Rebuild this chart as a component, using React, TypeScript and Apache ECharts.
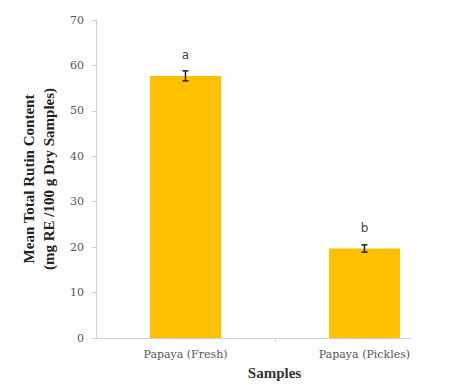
import React, { useEffect, useRef } from "react";
import * as echarts from "echarts";

const categories = ["Papaya (Fresh)", "Papaya (Pickles)"];
const means = [57.7, 19.7];
const errors = [1.1, 0.8];
const letters = ["a", "b"];
const yTicks = [0, 10, 20, 30, 40, 50, 60, 70];

export default function App() {
  const ref = useRef<HTMLDivElement>(null);
  useEffect(() => {
    if (!ref.current) return;
    const chart = echarts.init(ref.current, null, { renderer: "svg" });
    const serif = "Liberation Serif";
    const smallSerif = "DejaVu Serif";
    const positions = categories.map((_, i) => i + 0.5);
    chart.setOption({
      animation: false,
      backgroundColor: "#ffffff",
      textStyle: { fontFamily: serif },
      grid: { left: 96, right: 63, top: 20, bottom: 49, containLabel: false },
      xAxis: {
        type: "value",
        min: 0,
        max: 1.76,
        splitLine: { show: false },
        axisLine: { show: true, lineStyle: { color: "#d0d0d0", width: 1 } },
        axisTick: { show: true, customValues: [1], length: 4, lineStyle: { color: "#d0d0d0" } },
        axisLabel: {
          customValues: positions,
          formatter: (v: number) => categories[Math.floor(v)] ?? "",
          color: "#555",
          fontFamily: smallSerif,
          fontSize: 11,
          margin: 11,
        },
        name: "Samples",
        nameLocation: "middle",
        nameGap: 27,
        nameTextStyle: { fontFamily: serif, fontWeight: "bold", fontSize: 15, color: "#333", padding: [0, 0, 0, 42] },
      },
      yAxis: {
        type: "value",
        min: yTicks[0],
        max: yTicks[yTicks.length - 1],
        interval: 10,
        splitLine: { show: false },
        axisLine: { show: true, lineStyle: { color: "#d0d0d0", width: 1 } },
        axisTick: { show: true, length: 4, lineStyle: { color: "#d0d0d0" } },
        axisLabel: {
          color: "#555",
          fontFamily: smallSerif,
          fontSize: 11,
          margin: 12,
        },
        name: "Mean Total Rutin Content\n(mg RE /100 g Dry Samples)",
        nameLocation: "middle",
        nameGap: 34,
        nameTextStyle: { fontFamily: serif, fontWeight: "bold", fontSize: 15, color: "#222", lineHeight: 20 },
      },
      series: [
        {
          type: "bar",
          barWidth: 71,
          data: positions.map((x, i) => [x, means[i]]),
          itemStyle: { color: "#FFC000" },
          label: {
            show: true,
            position: "top",
            distance: 15,
            formatter: (p: any) => letters[p.dataIndex],
            color: "#444",
            fontFamily: "DejaVu Sans",
            fontSize: 12,
          },
        },
        {
          type: "custom",
          data: positions.map((x, i) => [x, means[i], errors[i]]),
          renderItem: (params: any, api: any) => {
            const x = api.value(0);
            const m = api.value(1);
            const e = api.value(2);
            const top = api.coord([x, m + e]);
            const bot = api.coord([x, m - e]);
            const cap = 3;
            const style = { stroke: "#222", lineWidth: 1.5 };
            return {
              type: "group",
              children: [
                { type: "line", shape: { x1: top[0], y1: top[1], x2: bot[0], y2: bot[1] }, style },
                { type: "line", shape: { x1: top[0] - cap, y1: top[1], x2: top[0] + cap, y2: top[1] }, style },
                { type: "line", shape: { x1: bot[0] - cap, y1: bot[1], x2: bot[0] + cap, y2: bot[1] }, style },
              ],
            };
          },
          z: 5,
        },
      ],
    });
    return () => chart.dispose();
  }, []);
  return <div ref={ref} style={{ width: 474, height: 387, position: "absolute", left: 0, top: 0 }} />;
}
